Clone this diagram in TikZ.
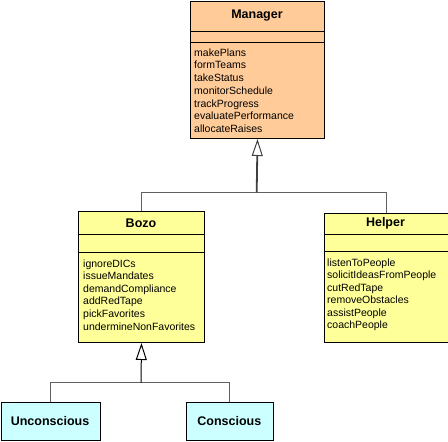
\documentclass[tikz,border=0pt]{standalone}
\usepackage{fontspec}
\setmainfont{Liberation Sans}
\usetikzlibrary{arrows.meta}
\definecolor{mgrfill}{HTML}{FFCC99}
\definecolor{yelfill}{HTML}{FFFF99}
\definecolor{cyanfill}{HTML}{CCFFFF}
\definecolor{connline}{HTML}{606060}
\definecolor{connthick}{HTML}{404040}
\tikzset{
  classbox/.style={draw=black, line width=1pt, rectangle, inner sep=0pt, anchor=north west},
  classtitle/.style={font=\bfseries\fontsize{12.5}{14}\selectfont, inner sep=0pt},
  meth/.style={font=\fontsize{10.5}{12}\selectfont, inner sep=0pt, anchor=base west},
  divider/.style={draw=black, line width=1pt},
  conn/.style={draw=connline, line width=1pt},
  connmain/.style={draw=connthick, line width=1.8pt},
  inherit/.style={-{Triangle[width=11pt,length=17pt,fill=white,line width=1pt]}},
}
\begin{document}
\begin{tikzpicture}[x=1pt,y=-1pt]
\useasboundingbox (0,0) rectangle (448,442);
\fill[white] (0,0) rectangle (448,442);

% Manager
\node[classbox, fill=mgrfill, minimum width=134pt, minimum height=137.5pt] (manager) at (190,0.5) {};
\draw[divider] (190,31) -- (324,31);
\draw[divider] (190,42) -- (324,42);
\node[classtitle] (mgrtitle) at (257,15.5) {Manager};
\foreach \t [count=\i from 0] in {makePlans,formTeams,takeStatus,monitorSchedule,trackProgress,evaluatePerformance,allocateRaises}
  \node[meth] (mgr-\i) at (194,56+12.75*\i) {\t};

% Bozo
\node[classbox, fill=yelfill, minimum width=126pt, minimum height=131pt] (bozo) at (78,211) {};
\draw[divider] (78,234) -- (204,234);
\draw[divider] (78,252) -- (204,252);
\node[classtitle] (bozotitle) at (141,223) {Bozo};
\foreach \t [count=\i from 0] in {ignoreDICs,issueMandates,demandCompliance,addRedTape,pickFavorites,undermineNonFavorites}
  \node[meth] (bozo-\i) at (83,267+12.6*\i) {\t};

% Helper
\node[classbox, fill=yelfill, minimum width=124pt, minimum height=128.5pt] (helper) at (323.5,213) {};
\draw[divider] (323.5,234) -- (447.5,234);
\draw[divider] (323.5,251) -- (447.5,251);
\node[classtitle] (helpertitle) at (385.5,223.5) {Helper};
\foreach \t [count=\i from 0] in {listenToPeople,solicitIdeasFromPeople,cutRedTape,removeObstacles,assistPeople,coachPeople}
  \node[meth] (helper-\i) at (327,266.5+12.4*\i) {\t};

% Unconscious / Conscious
\node[classbox, fill=cyanfill, minimum width=98.5pt, minimum height=38pt] (uncon) at (1,402.3) {};
\node[classtitle] (uncontitle) at (50,421) {Unconscious};
\node[classbox, fill=cyanfill, minimum width=87pt, minimum height=38pt] (con) at (185.8,402.3) {};
\node[classtitle] (contitle) at (229.3,421) {Conscious};

% connectors
\coordinate (j1) at (256.7,192.3);
\coordinate (j2) at (141,382.7);
\draw[conn] (bozo.north) |- (j1) -| (helper.north);
\draw[connmain, inherit] (j1) -- (manager.south);
\draw[conn] (uncon.north) |- (j2) -| (con.north);
\draw[draw=black, line width=1pt, inherit] (j2) -- (bozo.south);
\end{tikzpicture}
\end{document}
